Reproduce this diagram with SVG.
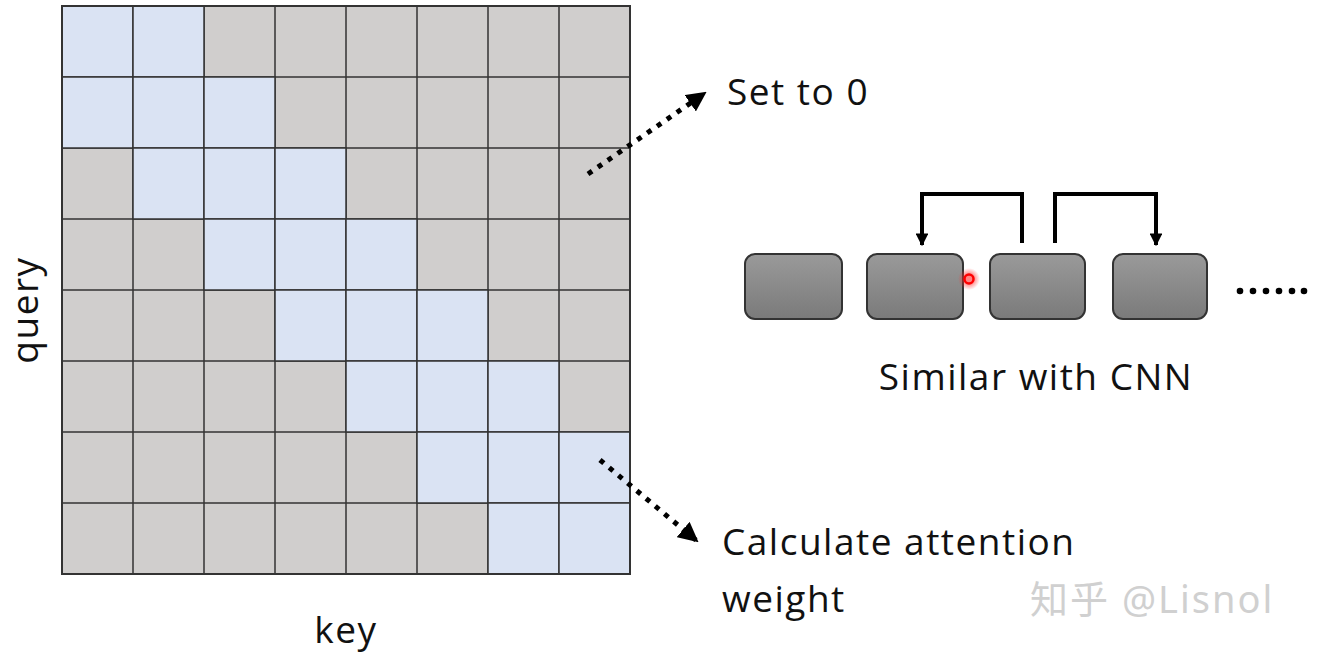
<svg xmlns="http://www.w3.org/2000/svg" width="1328" height="657" viewBox="0 0 1328 657">
<defs>
<style>
.g{fill:#d0cecd;stroke:#333;stroke-width:1.5}
.b{fill:#dae3f3;stroke:#333;stroke-width:1.5}
.t{font-family:"Open Sans","Noto Sans",sans-serif;font-size:37px;letter-spacing:1.5px;fill:#111}
.bx{fill:url(#gr);stroke:#333;stroke-width:2}
.ln{fill:none;stroke:#000;stroke-width:4}
.dt{fill:none;stroke:#000;stroke-width:5;stroke-dasharray:5 7}
</style>
<linearGradient id="gr" x1="0" y1="0" x2="0" y2="1"><stop offset="0" stop-color="#9a9a9a"/><stop offset="1" stop-color="#7a7a7a"/></linearGradient>
<radialGradient id="glow"><stop offset="0.4" stop-color="#ff3030" stop-opacity="0.6"/><stop offset="1" stop-color="#ff3030" stop-opacity="0"/></radialGradient>
<marker id="ah" viewBox="0 0 10 10" refX="9" refY="5" markerWidth="4" markerHeight="4" orient="auto"><path d="M0,0L10,5L0,10z" fill="#000"/></marker>
<marker id="ah2" viewBox="0 0 10 10" refX="9" refY="5" markerWidth="3.2" markerHeight="3.2" orient="auto"><path d="M0,0L10,5L0,10z" fill="#000"/></marker>
</defs>
<rect width="1328" height="657" fill="#fff"/>
<g id="matrix">
<rect class="g" x="62" y="6" width="568" height="568"/>
<path d="M133,6V574M204,6V574M275,6V574M346,6V574M417,6V574M488,6V574M559,6V574M62,77H630M62,148H630M62,219H630M62,290H630M62,361H630M62,432H630M62,503H630" stroke="#333" stroke-width="1.5"/>
<g class="b">
<rect x="62" y="6" width="71" height="71"/><rect x="133" y="6" width="71" height="71"/>
<rect x="62" y="77" width="71" height="71"/><rect x="133" y="77" width="71" height="71"/><rect x="204" y="77" width="71" height="71"/>
<rect x="133" y="148" width="71" height="71"/><rect x="204" y="148" width="71" height="71"/><rect x="275" y="148" width="71" height="71"/>
<rect x="204" y="219" width="71" height="71"/><rect x="275" y="219" width="71" height="71"/><rect x="346" y="219" width="71" height="71"/>
<rect x="275" y="290" width="71" height="71"/><rect x="346" y="290" width="71" height="71"/><rect x="417" y="290" width="71" height="71"/>
<rect x="346" y="361" width="71" height="71"/><rect x="417" y="361" width="71" height="71"/><rect x="488" y="361" width="71" height="71"/>
<rect x="417" y="432" width="71" height="71"/><rect x="488" y="432" width="71" height="71"/><rect x="559" y="432" width="71" height="71"/>
<rect x="488" y="503" width="71" height="71"/><rect x="559" y="503" width="71" height="71"/>
</g>
<rect x="62" y="6" width="568" height="568" fill="none" stroke="#333" stroke-width="2"/>
</g>
<g id="boxes">
<rect id="n1" class="bx" x="745" y="254" width="97" height="65" rx="10"/>
<rect id="n2" class="bx" x="867" y="254" width="96" height="65" rx="10"/>
<rect id="n3" class="bx" x="990" y="254" width="95" height="65" rx="10"/>
<rect id="n4" class="bx" x="1113" y="254" width="94" height="65" rx="10"/>
<g id="dots" fill="#000"><circle cx="1240" cy="291" r="3.3"/><circle cx="1253" cy="291" r="3.3"/><circle cx="1266" cy="291" r="3.3"/><circle cx="1279" cy="291" r="3.3"/><circle cx="1292" cy="291" r="3.3"/><circle cx="1304" cy="291" r="3.3"/></g>
<circle cx="969" cy="279" r="11" fill="url(#glow)"/>
<circle cx="969" cy="279" r="4.5" fill="none" stroke="#f00" stroke-width="2.5"/>
</g>
<g id="connectors">
<path class="ln" d="M1022,243V194H922V245" marker-end="url(#ah2)"/>
<path class="ln" d="M1055,243V194H1156V245" marker-end="url(#ah2)"/>
<path class="dt" d="M588,174L705,93" marker-end="url(#ah)"/>
<path class="dt" d="M600,460L697,541" marker-end="url(#ah)"/>
</g>
<g id="labels">
<text class="t" x="727" y="105">Set to 0</text>
<text class="t" x="1036" y="390" text-anchor="middle">Similar with CNN</text>
<text class="t" x="722" y="555">Calculate attention</text>
<text class="t" x="722" y="612">weight</text>
<text class="t" x="346" y="643" text-anchor="middle">key</text>
<text class="t" transform="translate(38,310) rotate(-90)" text-anchor="middle">query</text>
<text x="1030" y="613" font-family="'Noto Sans','Noto Sans CJK SC',sans-serif" font-size="38" letter-spacing="2" fill="#d0d0d0">知乎 @Lisnol</text>
</g>
</svg>
